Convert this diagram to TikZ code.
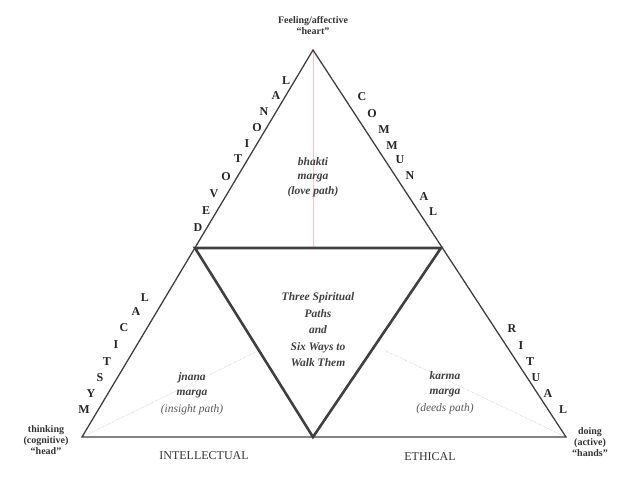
\documentclass[tikz,border=0pt]{standalone}
\usepackage{fontspec}
\setmainfont{Liberation Serif}
\begin{document}
\begin{tikzpicture}[x=1pt,y=-1pt,
  lt/.style={font=\bfseries\fontsize{12}{12}\selectfont, text=black!85},
  lab/.style={font=\bfseries\fontsize{10}{11}\selectfont, align=center, text=black!80},
  path/.style={font=\bfseries\itshape\fontsize{11.5}{14.5}\selectfont, align=center, text=black!75},
  sub/.style={font=\itshape\fontsize{11.5}{14}\selectfont, text=black!65},
  edge/.style={line width=1.3pt, draw=black!75},
  thick edge/.style={line width=2.6pt, draw=black!75}]
\useasboundingbox (0,0) rectangle (640,480);
\coordinate (top) at (313,50);
\coordinate (bl) at (82,437);
\coordinate (br) at (566,437);
\coordinate (il) at (195,248);
\coordinate (ir) at (441,248);
\coordinate (ib) at (313,437);
\coordinate (im) at (313,248);
\coordinate (jl) at (256,352);
\coordinate (jr) at (384,350);
\draw[red!25, line width=0.4pt] (top) -- (im);
\draw[black!35, densely dotted] (bl) -- (jl);
\draw[black!35, densely dotted] (br) -- (jr);
\draw[edge] (top) -- (bl) -- (br) -- cycle;
\draw[thick edge, line join=miter] (il) -- (ir) -- (ib) -- cycle;
\node[lab] (h) at (313,26) {Feeling/affective\\“heart”};
\node[lab, align=center] (c) at (46,440) {thinking\\(cognitive)\\“head”};
\node[lab, align=center] (d) at (590,442) {doing\\(active)\\“hands”};
\node[font=\fontsize{12}{12}\selectfont, text=black!80] (int) at (204,456) {INTELLECTUAL};
\node[font=\fontsize{12}{12}\selectfont, text=black!80] (eth) at (430,457) {ETHICAL};
\node[path] (bh) at (313,177) {bhakti\\marga\\(love path)};
\node[path, font=\bfseries\itshape\fontsize{11.5}{16.5}\selectfont] (ts) at (318,330) {Three Spiritual\\Paths\\and\\Six Ways to\\Walk Them};
\node[path, anchor=north] (jn) at (192,369) {jnana\\marga};
\node[sub] (jn2) at (192,410) {(insight path)};
\node[path, anchor=north] (ka) at (445,368) {karma\\marga};
\node[sub] (ka2) at (445,409) {(deeds path)};
\foreach \t/\x/\y [count=\i] in {D/198/228,E/206/211,V/214/194,O/226/177,T/238/159,I/247/144,O/257/128,N/264/112,A/276/96,L/286/81}
  \node[lt] (dv\i) at (\x,\y) {\t};
\foreach \t/\x/\y [count=\i] in {C/362/97,O/372/114,M/384/130,M/392/146,U/400/160,N/410/176,A/424/197,L/433/212}
  \node[lt] (cm\i) at (\x,\y) {\t};
\foreach \t/\x/\y [count=\i] in {M/84/410,Y/91/394,S/100/378,T/107/362,I/116/345,C/124/328,A/136/312,L/145/298}
  \node[lt] (my\i) at (\x,\y) {\t};
\foreach \t/\x/\y [count=\i] in {R/512/329,I/521/346,T/530/362,U/536/378,A/548/394,L/563/410}
  \node[lt] (rt\i) at (\x,\y) {\t};
\end{tikzpicture}
\end{document}
